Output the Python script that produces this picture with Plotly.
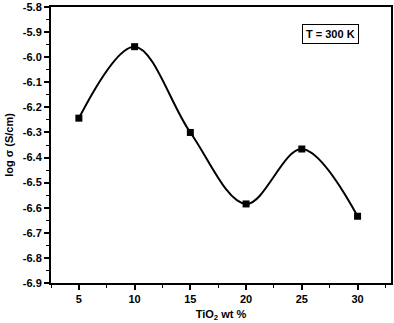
import plotly.graph_objects as go

tio2 = [5, 10, 15, 20, 25, 30]
log_sigma = [-6.243, -5.958, -6.300, -6.585, -6.366, -6.634]
y_ticks = [-6.9, -6.8, -6.7, -6.6, -6.5, -6.4, -6.3, -6.2, -6.1, -6.0, -5.9, -5.8]
x_ticks = [5, 10, 15, 20, 25, 30]

font = dict(family="Liberation Sans, Arial", size=11, color="black")

fig = go.Figure()
fig.add_trace(go.Scatter(
    x=tio2, y=log_sigma, mode="lines",
    line=dict(shape="spline", smoothing=1.0, color="black", width=2),
    showlegend=False, hoverinfo="skip"))
fig.add_trace(go.Scatter(
    x=tio2, y=log_sigma, mode="markers",
    marker=dict(symbol="square", size=7, color="black"),
    showlegend=False))

fig.update_layout(
    width=394, height=323,
    margin=dict(l=51, r=1, t=6, b=40),
    paper_bgcolor="white", plot_bgcolor="white",
    font=font,
    xaxis=dict(
        range=[2.5, 33], tickvals=x_ticks, ticktext=[f"<b>{v}</b>" for v in x_ticks],
        ticks="outside", ticklen=5, tickwidth=1.5, tickcolor="black",
        minor=dict(dtick=2.5, tick0=2.5, ticks="outside", ticklen=3, tickcolor="black", tickwidth=1.2),
        showline=True, linecolor="black", linewidth=2, mirror=True,
        showgrid=False, zeroline=False,
        title=dict(text="<b>TiO<sub>2</sub> wt %</b>", font=dict(size=11), standoff=6),
    ),
    yaxis=dict(
        range=[-6.9002, -5.7998], tickvals=y_ticks, ticktext=[f"<b>{v:.1f}</b>" for v in y_ticks],
        ticks="outside", ticklen=5, tickwidth=1.5, tickcolor="black",
        ticklabeloverflow="allow",
        minor=dict(dtick=0.05, tick0=-6.9, ticks="outside", ticklen=3, tickcolor="black", tickwidth=1.2),
        showline=True, linecolor="black", linewidth=2, mirror=True,
        showgrid=False, zeroline=False,
        title=dict(text="<b>log σ (S/cm)</b>", font=dict(size=11), standoff=7),
    ),
    annotations=[dict(
        x=0.823, y=0.903, xref="paper", yref="paper", xanchor="center", yanchor="middle",
        text="<b>T = 300 K</b>", showarrow=False, font=dict(size=11),
        bordercolor="black", borderwidth=1, borderpad=3, bgcolor="white")],
)

fig.write_html("out.html")
